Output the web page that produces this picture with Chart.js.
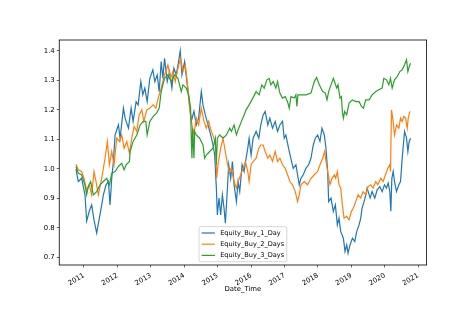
<!DOCTYPE html>
<html>
<head>
<meta charset="utf-8">
<script src="https://cdn.jsdelivr.net/npm/chart.js@4"></script>
<style>
html, body { margin: 0; padding: 0; background: #fff; }
</style>
</head>
<body>
<canvas id="equity-chart" width="474" height="331"></canvas>
<script>
const seriesLabels = ['Equity_Buy_1_Day', 'Equity_Buy_2_Days', 'Equity_Buy_3_Days'];
const yearTicks = [2011, 2012, 2013, 2014, 2015, 2016, 2017, 2018, 2019, 2020, 2021];
const valueTicks = [0.7, 0.8, 0.9, 1.0, 1.1, 1.2, 1.3, 1.4];

// Equity_Buy_1_Day
const day1Years = [2010.76,2010.83,2010.93,2011.03,2011.08,2011.16,2011.23,2011.30,2011.38,2011.46,2011.53,2011.58,2011.66,2011.73,2011.78,2011.83,2011.88,2011.93,2012.03,2012.08,2012.18,2012.23,2012.33,2012.41,2012.47,2012.56,2012.62,2012.70,2012.76,2012.82,2012.89,2012.97,2013.06,2013.12,2013.19,2013.25,
  2013.31,2013.36,2013.41,2013.49,2013.56,2013.63,2013.69,2013.76,2013.83,2013.88,2013.93,2014.01,2014.09,2014.16,2014.21,2014.29,2014.36,2014.43,2014.51,2014.56,2014.63,2014.71,2014.79,2014.86,2014.91,2014.96,2014.99,2015.04,2015.09,2015.14,2015.19,2015.23,2015.28,2015.33,2015.39,2015.44,2015.49,2015.56,2015.61,2015.66,2015.73,2015.79,2015.85,
  2015.90,2015.94,2016.00,2016.06,2016.15,2016.23,2016.29,2016.36,2016.42,2016.50,2016.56,2016.64,2016.72,2016.79,2016.86,2016.94,2016.99,2017.04,2017.12,2017.19,2017.26,2017.34,2017.39,2017.44,2017.49,2017.56,2017.64,2017.72,2017.79,2017.86,2017.92,2017.99,2018.06,2018.12,2018.19,2018.24,2018.29,2018.32,2018.39,2018.46,2018.52,
  2018.58,2018.63,2018.68,2018.76,2018.81,2018.86,2018.90,2018.96,2019.03,2019.10,2019.16,2019.23,2019.28,2019.32,2019.38,2019.43,2019.47,2019.56,2019.62,2019.70,2019.77,2019.85,2019.92,2019.99,2020.05,2020.10,2020.15,2020.18,2020.21,2020.25,2020.29,2020.35,2020.42,2020.47,2020.52,2020.59,2020.65,2020.69,2020.73,2020.77];
const day1Values = [1.00,0.957,0.968,0.912,0.823,0.857,0.878,0.827,0.782,0.833,0.878,0.912,0.946,0.957,0.878,0.968,1.025,1.115,1.149,1.104,1.206,1.172,1.138,1.206,1.161,1.228,1.217,1.296,1.251,1.274,1.228,1.307,1.336,1.296,1.319,1.262,
  1.364,1.307,1.375,1.296,1.330,1.274,1.341,1.319,1.364,1.400,1.319,1.364,1.285,1.217,1.161,1.195,1.149,1.172,1.262,1.217,1.183,1.149,1.115,1.081,1.047,0.935,0.844,0.901,0.844,0.912,0.867,0.816,0.912,1.014,0.968,1.025,0.946,0.889,0.957,0.923,1.014,0.991,1.036,
  1.070,1.104,1.047,1.104,1.127,1.104,1.149,1.183,1.195,1.149,1.172,1.138,1.161,1.127,1.149,1.161,1.104,1.115,1.070,1.035,1.002,1.014,0.980,0.946,0.968,0.980,1.002,1.014,1.036,1.081,1.104,1.115,1.093,1.138,1.115,1.070,0.991,0.889,0.901,0.856,0.878,
  0.810,0.833,0.788,0.765,0.720,0.742,0.714,0.742,0.765,0.754,0.788,0.810,0.833,0.867,0.889,0.912,0.935,0.901,0.923,0.901,0.929,0.940,0.923,0.946,0.935,0.952,0.923,0.856,0.968,0.991,0.957,0.923,0.946,0.957,1.036,1.127,1.104,1.059,1.093,1.104];

// Equity_Buy_2_Days
const day2Years = [2010.76,2010.83,2010.93,2011.00,2011.08,2011.16,2011.23,2011.30,2011.36,2011.43,2011.53,2011.63,2011.70,2011.76,2011.83,2011.90,2011.98,2012.06,2012.13,2012.20,2012.28,2012.36,2012.43,2012.50,2012.58,2012.65,2012.73,2012.79,2012.88,2012.97,2013.07,2013.15,2013.22,
  2013.31,2013.41,2013.51,2013.59,2013.66,2013.73,2013.81,2013.89,2013.96,2014.03,2014.11,2014.16,2014.23,2014.29,2014.36,2014.43,2014.51,2014.59,2014.66,2014.73,2014.81,2014.89,2014.94,2014.97,2015.01,2015.09,2015.16,2015.21,2015.28,2015.34,2015.41,2015.49,2015.56,2015.61,2015.69,2015.76,2015.83,
  2015.90,2015.94,2016.00,2016.06,2016.15,2016.23,2016.29,2016.36,2016.42,2016.50,2016.56,2016.64,2016.72,2016.79,2016.86,2016.94,2017.02,2017.09,2017.16,2017.24,2017.32,2017.39,2017.44,2017.49,2017.59,2017.69,2017.79,2017.89,2017.99,2018.06,2018.14,2018.20,2018.24,2018.29,2018.36,2018.42,2018.49,
  2018.53,2018.58,2018.63,2018.68,2018.73,2018.78,2018.86,2018.93,2019.00,2019.06,2019.13,2019.20,2019.28,2019.35,2019.43,2019.50,2019.58,2019.65,2019.73,2019.79,2019.88,2019.95,2020.02,2020.09,2020.15,2020.17,2020.20,2020.25,2020.29,2020.35,2020.42,2020.47,2020.52,2020.57,2020.62,2020.67,2020.70,2020.75];
const day2Values = [1.016,0.997,0.991,0.968,0.929,0.946,0.912,0.991,0.957,0.912,0.968,1.036,1.093,1.014,1.059,1.014,1.104,1.093,1.115,1.070,1.093,1.053,1.104,1.144,1.127,1.183,1.200,1.161,1.200,1.206,1.217,1.206,1.240,
  1.274,1.319,1.353,1.307,1.330,1.296,1.341,1.375,1.330,1.353,1.274,1.206,1.149,1.115,1.172,1.149,1.206,1.161,1.138,1.161,1.127,1.104,1.070,0.968,1.014,1.070,1.104,1.070,1.025,0.991,1.002,0.957,0.935,0.957,0.980,1.002,1.025,
  0.991,0.957,1.014,1.025,1.036,1.070,1.081,1.081,1.059,1.036,1.047,1.025,1.059,1.025,1.036,1.014,1.002,0.980,0.957,0.946,0.923,0.889,0.912,0.946,0.957,0.946,0.968,0.980,0.991,1.014,1.036,1.059,1.025,0.991,0.946,0.968,0.980,
  0.968,0.991,0.946,0.935,0.878,0.833,0.839,0.827,0.856,0.867,0.889,0.912,0.901,0.923,0.912,0.940,0.946,0.935,0.957,0.946,0.968,0.957,0.980,1.002,1.014,0.991,1.200,1.161,1.115,1.149,1.138,1.172,1.161,1.178,1.172,1.138,1.172,1.195];

// Equity_Buy_3_Days
const day3Years = [2010.76,2010.83,2010.93,2011.03,2011.08,2011.13,2011.20,2011.28,2011.38,2011.48,2011.58,2011.68,2011.76,2011.83,2011.93,2012.03,2012.13,2012.20,2012.26,2012.36,2012.38,2012.47,2012.58,2012.68,2012.77,2012.85,2012.89,2012.97,2013.07,2013.17,2013.25,
  2013.31,2013.41,2013.51,2013.61,2013.71,2013.81,2013.91,2013.96,2014.06,2014.13,2014.19,2014.21,2014.23,2014.25,2014.29,2014.31,2014.36,2014.46,2014.56,2014.61,2014.66,2014.76,2014.86,2014.93,2014.96,2014.99,2015.06,2015.16,2015.26,2015.36,2015.41,2015.49,2015.56,2015.63,2015.71,2015.79,2015.85,
  2015.94,2016.05,2016.15,2016.24,2016.32,2016.39,2016.47,2016.54,2016.59,2016.66,2016.74,2016.79,2016.86,2016.94,2017.02,2017.09,2017.14,2017.19,2017.29,2017.34,2017.37,2017.40,2017.49,2017.64,2017.79,2017.89,2017.96,2018.04,2018.14,2018.22,2018.27,2018.32,2018.39,2018.46,
  2018.56,2018.60,2018.66,2018.70,2018.73,2018.76,2018.80,2018.86,2018.93,2019.03,2019.13,2019.23,2019.30,2019.36,2019.43,2019.53,2019.62,2019.73,2019.82,2019.92,2019.97,2020.05,2020.12,2020.17,2020.22,2020.29,2020.37,2020.45,2020.52,2020.59,2020.65,2020.69,2020.73,2020.77];
const day3Values = [1.008,0.985,0.980,0.946,0.912,0.940,0.957,0.912,0.923,0.946,0.957,0.968,0.946,0.985,0.991,1.008,1.019,0.997,1.014,1.025,1.059,1.093,1.115,1.149,1.161,1.161,1.115,1.161,1.178,1.189,1.206,
  1.262,1.307,1.319,1.296,1.319,1.307,1.262,1.285,1.274,1.251,1.206,1.104,1.036,1.138,1.036,1.127,1.115,1.104,1.081,1.036,1.047,1.059,1.070,1.104,1.014,1.104,1.115,1.104,1.115,1.138,1.127,1.149,1.115,1.138,1.161,1.183,1.200,
  1.217,1.240,1.262,1.251,1.285,1.274,1.302,1.307,1.285,1.296,1.274,1.296,1.257,1.240,1.245,1.228,1.206,1.245,1.240,1.251,1.212,1.251,1.251,1.251,1.257,1.296,1.310,1.285,1.262,1.257,1.234,1.262,1.285,1.307,
  1.274,1.285,1.240,1.245,1.195,1.172,1.195,1.183,1.223,1.234,1.228,1.228,1.212,1.206,1.234,1.234,1.251,1.262,1.268,1.274,1.307,1.302,1.285,1.307,1.274,1.302,1.313,1.330,1.336,1.353,1.370,1.330,1.347,1.358];

const X_MIN = 2010.26, X_MAX = 2021.25;
const Y_MIN = 0.674, Y_MAX = 1.437;
const FONT_SIZE = 6.9;
const LEGEND_FONT_SIZE = 6.6;
const FONT_FAMILY = '"DejaVu Sans", sans-serif';
const colors = ['#1f77b4', '#ff7f0e', '#2ca02c'];

function toPoints(xs, ys) {
    return xs.map((x, i) => ({ x: x, y: ys[i] }));
}

// axes box like matplotlib spines
const framePlugin = {
    id: 'frame',
    afterDatasetsDraw(chart) {
        const { ctx, chartArea: a } = chart;
        ctx.save();
        ctx.strokeStyle = '#000';
        ctx.lineWidth = 0.8;
        ctx.strokeRect(a.left, a.top, a.right - a.left, a.bottom - a.top);
        ctx.restore();
    }
};

// boxed legend at lower center of the plot area
const boxLegendPlugin = {
    id: 'boxLegend',
    afterDraw(chart) {
        const { ctx, chartArea: a } = chart;
        const sets = chart.data.datasets;
        ctx.save();
        ctx.font = LEGEND_FONT_SIZE + 'px ' + FONT_FAMILY;
        const textW = Math.max(...sets.map(d => ctx.measureText(d.label).width));
        const em = LEGEND_FONT_SIZE;
        const pad = 0.4 * em, handle = 2 * em, gap = 0.8 * em, rowH = 11.2;
        const w = pad + handle + gap + textW + pad;
        const h = rowH * sets.length + 1.4;
        const x = (a.left + a.right) / 2 - w / 2;
        const y = a.bottom - 0.5 * em - h;
        ctx.fillStyle = 'rgba(255,255,255,0.8)';
        ctx.strokeStyle = '#cccccc';
        ctx.lineWidth = 0.8;
        ctx.beginPath();
        ctx.roundRect(x, y, w, h, 1.5);
        ctx.fill();
        ctx.stroke();
        sets.forEach((d, i) => {
            const cy = y + 0.7 + rowH * (i + 0.5);
            ctx.strokeStyle = d.borderColor;
            ctx.lineWidth = 1.2;
            ctx.beginPath();
            ctx.moveTo(x + pad, cy);
            ctx.lineTo(x + pad + handle, cy);
            ctx.stroke();
            ctx.fillStyle = '#000';
            ctx.textBaseline = 'middle';
            ctx.textAlign = 'left';
            ctx.fillText(d.label, x + pad + handle + gap, cy);
        });
        ctx.restore();
    }
};

const tickFont = { family: FONT_FAMILY, size: FONT_SIZE };

new Chart(document.getElementById('equity-chart'), {
    type: 'line',
    data: {
        datasets: [
            { label: seriesLabels[0], data: toPoints(day1Years, day1Values), borderColor: colors[0], order: 2 },
            { label: seriesLabels[1], data: toPoints(day2Years, day2Values), borderColor: colors[1], order: 1 },
            { label: seriesLabels[2], data: toPoints(day3Years, day3Values), borderColor: colors[2], order: 0 }
        ]
    },
    options: {
        responsive: false,
        animation: false,
        layout: { padding: { top: 40, right: 47.4, left: 0, bottom: 0 } },
        elements: {
            point: { radius: 0 },
            line: { borderWidth: 1.2, tension: 0, fill: false }
        },
        plugins: {
            legend: { display: false },
            tooltip: { enabled: false }
        },
        scales: {
            x: {
                type: 'linear',
                min: X_MIN,
                max: X_MAX,
                afterBuildTicks: s => { s.ticks = yearTicks.map(v => ({ value: v })); },
                afterFit: s => { s.height = 66; },
                grid: { drawOnChartArea: false, color: '#000', lineWidth: 0.6, tickLength: 2.5 },
                border: { display: false },
                ticks: {
                    autoSkip: false, minRotation: 30, maxRotation: 30, padding: 4,
                    color: '#000', font: tickFont,
                    callback: v => String(v)
                },
                title: {
                    display: true, text: 'Date_Time', color: '#000', font: tickFont,
                    padding: { top: 0, bottom: 38 }
                }
            },
            y: {
                min: Y_MIN,
                max: Y_MAX,
                afterBuildTicks: s => { s.ticks = valueTicks.map(v => ({ value: v })); },
                afterFit: s => { s.width = 59.25; },
                grid: { drawOnChartArea: false, color: '#000', lineWidth: 0.6, tickLength: 2.5 },
                border: { display: false },
                ticks: {
                    padding: 2, color: '#000', font: tickFont,
                    callback: v => v.toFixed(1)
                }
            }
        }
    },
    plugins: [framePlugin, boxLegendPlugin]
});
</script>
</body>
</html>
